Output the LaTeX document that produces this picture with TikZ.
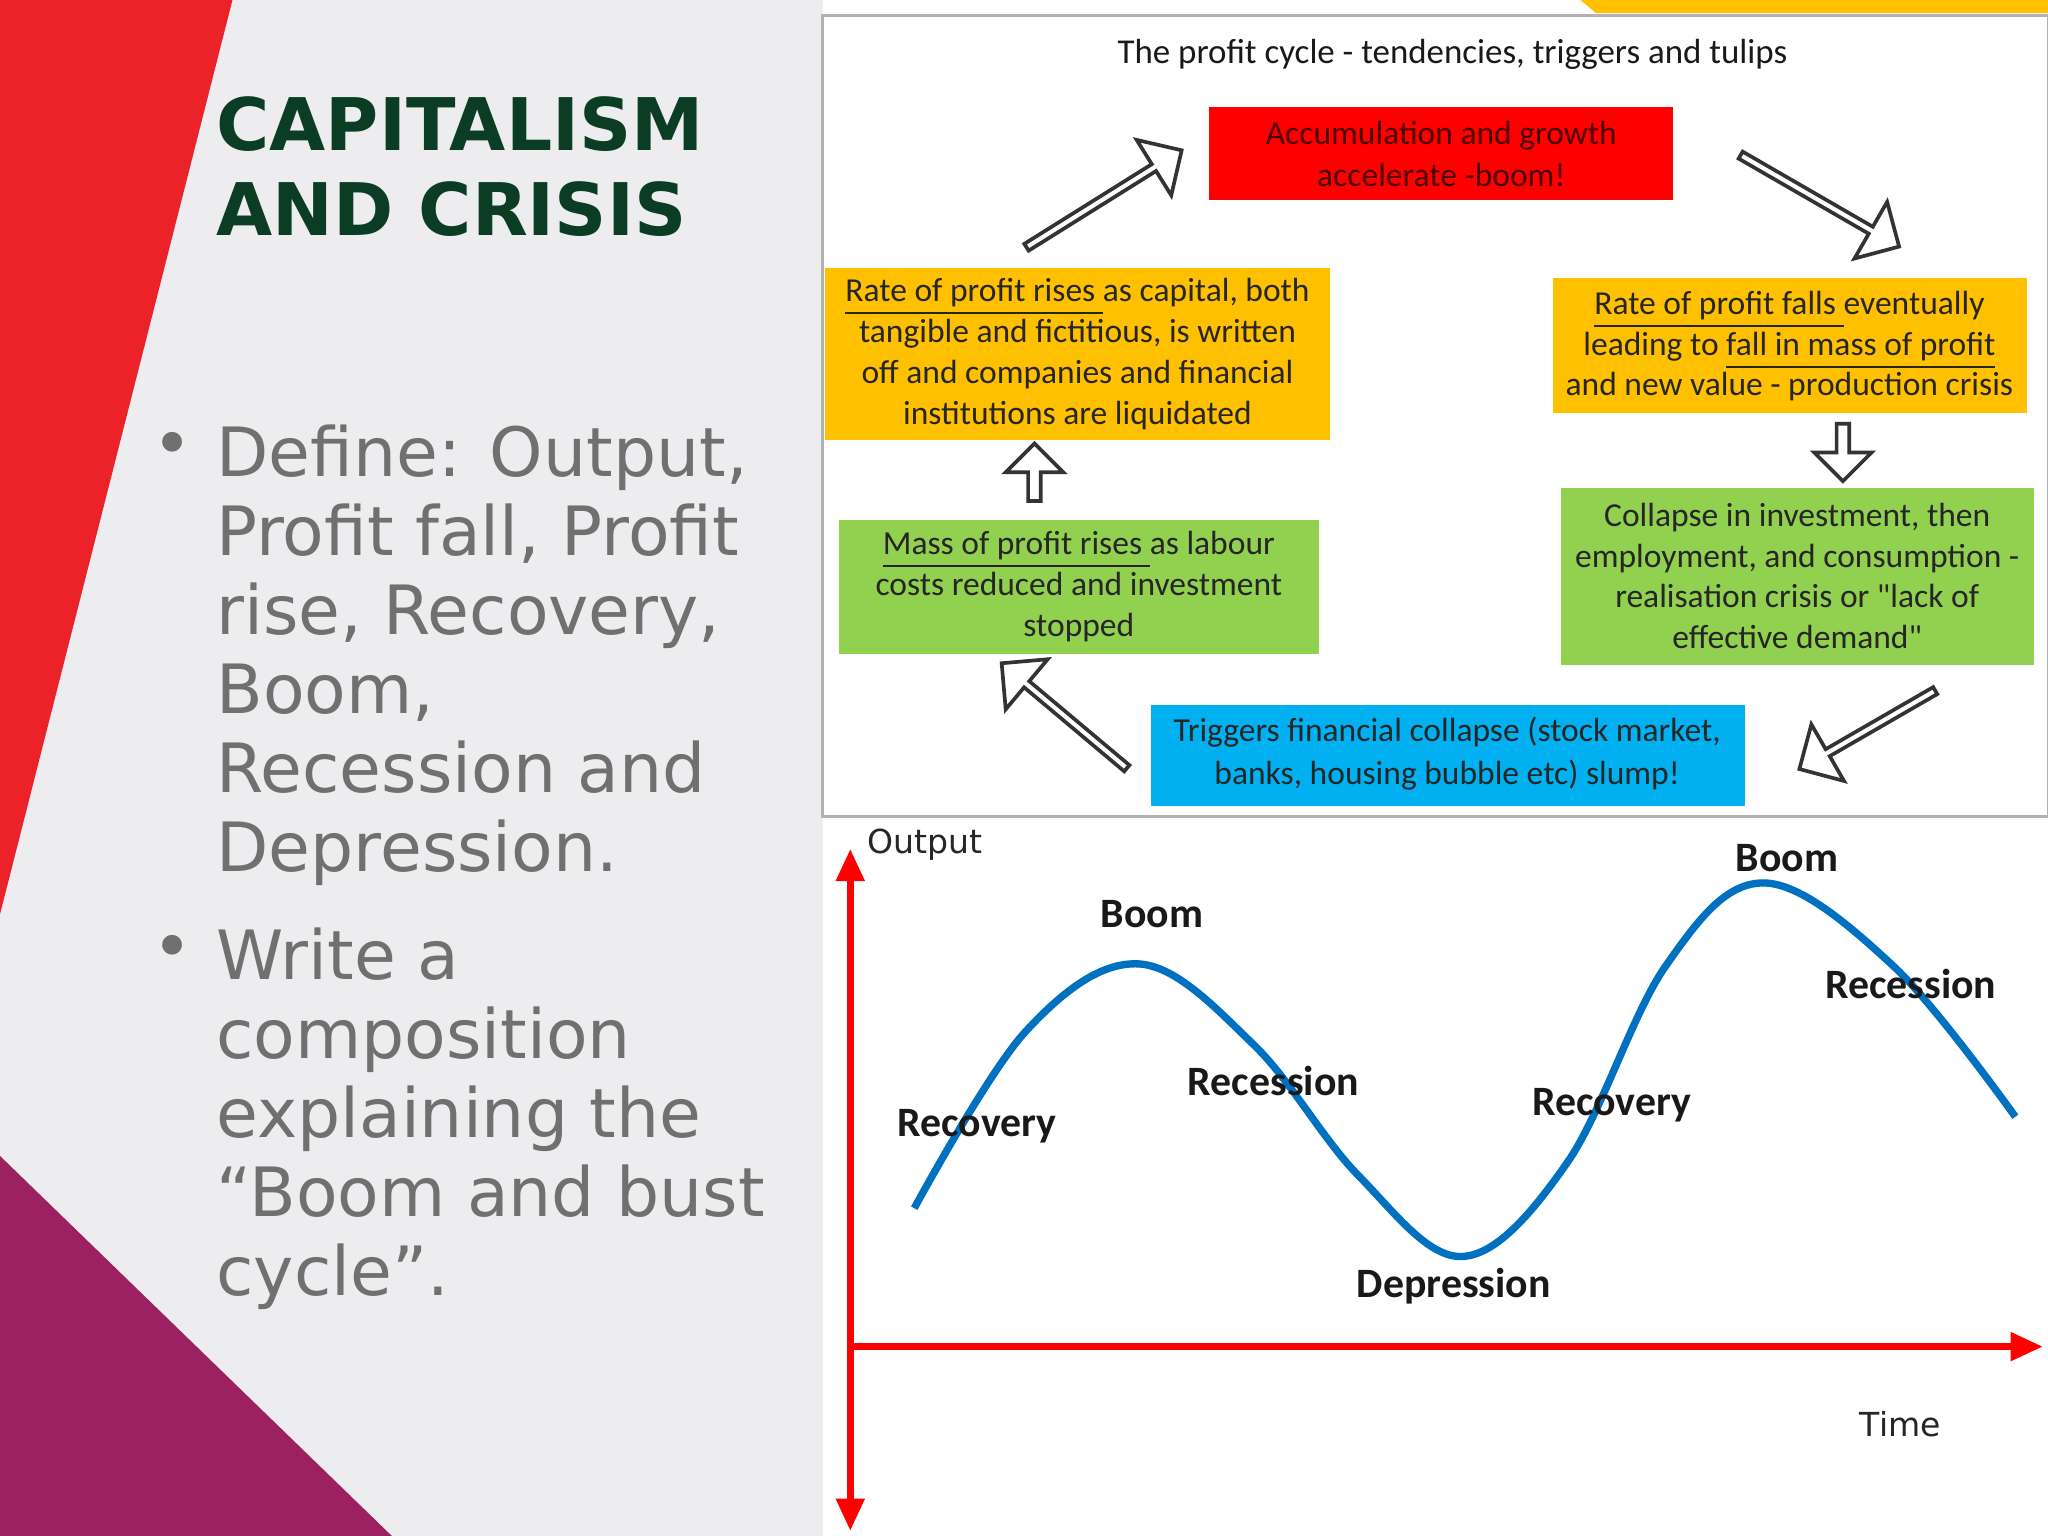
\documentclass[tikz,border=0pt]{standalone}
\usepackage{fontspec}
\setmainfont{DejaVu Sans}
\newfontfamily\calfont{Carlito}
\usetikzlibrary{shapes.arrows,arrows.meta}
\definecolor{lgray}{HTML}{EDEDEF}
\definecolor{tgreen}{HTML}{0B3D24}
\definecolor{tgray}{HTML}{707070}
\definecolor{cyell}{HTML}{FFC000}
\definecolor{cgreen}{HTML}{92D050}
\definecolor{cblue}{HTML}{00B0F0}
\definecolor{wave}{HTML}{0070C0}
\definecolor{purp}{HTML}{9C2160}
\definecolor{sred}{HTML}{EC2229}
\tikzset{
 ctext/.style={align=center,font=\calfont\fontsize{7.3}{8.9}\selectfont,text=black!85},
 harrow/.style={single arrow,draw=black!80,fill=white,line width=0.8pt,minimum width=0.5cm,single arrow head extend=0.1cm,single arrow head indent=0pt,inner sep=0pt},
 lbl/.style={font=\calfont\bfseries\fontsize{9.1}{11}\selectfont,text=black!90},
 bul/.style={anchor=base west,inner sep=0pt,font=\fontsize{14.8}{17}\selectfont,text=tgray},
}
\begin{document}
\begin{tikzpicture}[x=0.01cm,y=-0.01cm]
\useasboundingbox (0,0) rectangle (1568,1176);
\fill[lgray] (0,0) rectangle (630,1176);
\fill[white] (630,0) rectangle (1568,1176);
\fill[sred] (0,0) -- (178,0) -- (0,700) -- cycle;
\fill[purp] (0,885) -- (300,1176) -- (0,1176) -- cycle;
\fill[cyell] (1210,0) -- (1568,0) -- (1568,10) -- (1222,10) -- cycle;
% title
\node[anchor=base west,inner sep=0pt,font=\bfseries\fontsize{15.8}{20}\selectfont,text=tgreen] (t1) at (165,115) {CAPITALISM};
\node[anchor=base west,inner sep=0pt,font=\bfseries\fontsize{15.8}{20}\selectfont,text=tgreen] (t2) at (165,180) {AND CRISIS};
% bullets
\node[anchor=base,font=\fontsize{14.8}{17}\selectfont,text=tgray] (b1) at (132,358) {•};
\node[anchor=base,font=\fontsize{14.8}{17}\selectfont,text=tgray] (b2) at (132,743) {•};
\foreach \t [count=\i from 0] in {{Define: Output,},{Profit fall, Profit},{rise, Recovery,},{Boom,},{Recession and},{Depression.}}
  \node[bul] (l\i) at (165,365+60.4*\i) {\t};
\foreach \t [count=\i from 0] in {Write a,composition,explaining the,“Boom and bust,cycle”.}
  \node[bul] (m\i) at (165,750+60.5*\i) {\t};
% diagram frame
\draw[black!30,line width=0.6pt] (630,12) rectangle (1568,625);
\node[font=\calfont\fontsize{7.6}{9}\selectfont,text=black!90] (ttl) at (1112,42) {The profit cycle - tendencies, triggers and tulips};
\fill[red] (926,82) rectangle (1281,153);
\node[ctext,font=\calfont\fontsize{7.3}{9.3}\selectfont,text=red!30!black] (acct) at (1103.5,118) {Accumulation and growth\\accelerate -boom!};
\fill[cyell] (632,205) rectangle (1018,337);
\node[ctext] (yl) at (825,271) {\underline{Rate of profit rises }as capital, both\\tangible and fictitious, is written\\off and companies and financial\\institutions are liquidated};
\fill[cyell] (1189,213) rectangle (1552,316);
\node[ctext] (yr) at (1370,265) {\underline{Rate of profit falls }eventually\\leading to \underline{fall in mass of profit}\\and new value - production crisis};
\fill[cgreen] (642,398) rectangle (1010,501);
\node[ctext] (gl) at (826,449) {\underline{Mass of profit rises }as labour\\costs reduced and investment\\stopped};
\fill[cgreen] (1195,374) rectangle (1557,509);
\node[ctext] (gr) at (1376,441) {Collapse in investment, then\\employment, and consumption -\\realisation crisis or "lack of\\effective demand"};
\fill[cblue] (881,540) rectangle (1336,617);
\node[ctext,font=\calfont\fontsize{7.3}{9.3}\selectfont] (bl) at (1108,577) {Triggers financial collapse (stock market,\\banks, housing bubble etc) slump!};
% hollow arrows
\node[harrow,minimum height=1.4cm,rotate=32] (a1) at (844,153) {};
\node[harrow,minimum height=1.4cm,rotate=-30] (a2) at (1392,153) {};
\node[harrow,minimum height=0.44cm,minimum width=0.44cm,single arrow head extend=0.05cm,rotate=-90] (a3) at (1411,344) {};
\node[harrow,minimum height=0.44cm,minimum width=0.44cm,single arrow head extend=0.05cm,rotate=90] (a4) at (792,364) {};
\node[harrow,minimum height=1.2cm,rotate=210] (a5) at (1431,558) {};
\node[harrow,minimum height=1.25cm,rotate=140] (a6) at (816,549) {};
% axes
\coordinate (o) at (651,1031);
\coordinate (yt) at (651,650);
\coordinate (yb) at (651,1172);
\coordinate (xr) at (1564,1031);
\draw[red,line width=1.4pt,{Triangle[length=7pt,width=6pt]}-{Triangle[length=7pt,width=6pt]}] (yb) -- (yt);
\draw[red,line width=1.4pt,-{Triangle[length=7pt,width=6pt]}] (o) -- (xr);
\node[font=\fontsize{7.2}{9}\selectfont,text=black!85] (out) at (708,647) {Output};
\node[font=\fontsize{7.2}{9}\selectfont,text=black!85] (tim) at (1455,1090) {Time};
% wave
\draw[wave,line width=1.6pt] plot[smooth,tension=0.6] coordinates {(700,925) (785,790) (872,738) (960,800) (1040,900) (1120,962) (1200,890) (1275,740) (1350,676) (1450,740) (1543,855)};
\node[lbl] (bo1) at (882,700) {Boom};
\node[lbl] (re1) at (975,828) {Recession};
\node[lbl] (rc1) at (748,862) {Recovery};
\node[lbl] (dep) at (1113,985) {Depression};
\node[lbl] (bo2) at (1368,657) {Boom};
\node[lbl] (re2) at (1463,753) {Recession};
\node[lbl] (rc2) at (1234,846) {Recovery};
\end{tikzpicture}
\end{document}
